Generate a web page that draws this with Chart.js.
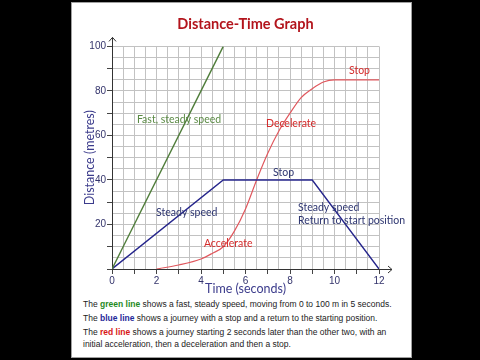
<!DOCTYPE html>
<html>
<head>
<meta charset="utf-8">
<script src="https://cdn.jsdelivr.net/npm/chart.js@4.4.1/dist/chart.umd.min.js"></script>
<style>
  html, body { margin: 0; padding: 0; background: #000; width: 480px; height: 360px; overflow: hidden; }
  #panel { position: absolute; left: 71px; top: 2px; width: 339px; height: 354px; background: #fff; border: 1px solid #a0a0a0; }
  #wrap { position: absolute; left: 0; top: 0; width: 338px; height: 294px; }
  #notes { position: absolute; left: 11px; top: 296px; width: 326px; white-space: nowrap; font-family: 'Liberation Sans', Arial, sans-serif; font-size: 8.5px; color: #222; }
  #notes p { margin: 0 0 2.5px 0; line-height: 11.5px; }
  .g { color: #1f8a1f; font-weight: bold; }
  .b { color: #1f2a9a; font-weight: bold; }
  .r { color: #d81818; font-weight: bold; }
</style>
</head>
<body>
<div id="panel">
  <div id="wrap"><canvas id="graph"></canvas></div>
  <div id="notes">
    <p>The <span class="g">green line</span> shows a fast, steady speed, moving from 0 to 100 m in 5 seconds.</p>
    <p>The <span class="b">blue line</span> shows a journey with a stop and a return to the starting position.</p>
    <p>The <span class="r">red line</span> shows a journey starting 2 seconds later than the other two, with an<br>initial acceleration, then a deceleration and then a stop.</p>
  </div>
</div>
<script>
// time (s) and distance (m) for each journey
const greenTime = [0, 5];
const greenDist = [0, 100];
const blueTime = [0, 5, 9, 12];
const blueDist = [0, 40, 40, 0];
const redTime = [2, 3, 4, 4.5, 5, 5.5, 6, 6.5, 7, 7.5, 8, 8.5, 9, 9.5, 10, 11, 12];
const redDist = [0, 1.8, 4.5, 7, 10, 17, 27, 40, 52, 62, 70, 77, 81, 84, 85, 85, 85];

// labelled ticks
const timeLabels = [0, 2, 4, 6, 8, 10, 12];
const distLabels = [20, 40, 60, 80, 100];

const toPoints = (xs, ys) => xs.map((x, i) => ({ x: x, y: ys[i] }));

const annoFont = "10.5px Lato, sans-serif";
const notes = [
  { text: 'Fast, steady speed', t: 1.12, d: 67, color: '#5b8a45' },
  { text: 'Decelerate', t: 6.92, d: 65.3, color: '#d42a2a' },
  { text: 'Stop', t: 10.65, d: 89.3, color: '#d42a2a' },
  { text: 'Stop', t: 7.24, d: 43.4, color: '#2d3570' },
  { text: 'Steady speed', t: 1.98, d: 25.4, color: '#2d3570' },
  { text: 'Steady speed', t: 8.36, d: 27.8, color: '#2d3570' },
  { text: 'Return to start position', t: 8.36, d: 21.8, color: '#2d3570' },
  { text: 'Accelerate', t: 4.13, d: 11.3, color: '#d42a2a' }
];

// arrows on the axes + text labels inside the plot
const extras = {
  id: 'extras',
  afterDraw(chart) {
    const { ctx, chartArea: a, scales } = chart;
    ctx.save();
    ctx.strokeStyle = '#333';
    ctx.lineWidth = 1;
    ctx.beginPath();
    ctx.moveTo(a.left + 0.5, a.top);
    ctx.lineTo(a.left + 0.5, a.top - 9);
    ctx.moveTo(a.left - 3, a.top - 5);
    ctx.lineTo(a.left + 0.5, a.top - 9);
    ctx.lineTo(a.left + 4, a.top - 5);
    ctx.moveTo(a.right, a.bottom + 0.5);
    ctx.lineTo(a.right + 13, a.bottom + 0.5);
    ctx.moveTo(a.right + 9, a.bottom - 3);
    ctx.lineTo(a.right + 13, a.bottom + 0.5);
    ctx.lineTo(a.right + 9, a.bottom + 4);
    ctx.stroke();

    ctx.font = annoFont;
    ctx.textAlign = 'left';
    ctx.textBaseline = 'middle';
    notes.forEach(n => {
      ctx.fillStyle = n.color;
      ctx.fillText(n.text, scales.x.getPixelForValue(n.t), scales.y.getPixelForValue(n.d));
    });
    ctx.restore();
  }
};

const tickFont = { family: "'Liberation Sans', Arial, sans-serif", size: 10 };
const titleFont = { family: "Lato, 'Open Sans', sans-serif", size: 12.5 };

new Chart(document.getElementById('graph'), {
  type: 'line',
  data: {
    datasets: [
      { data: toPoints(greenTime, greenDist), borderColor: '#4f7d3a', borderWidth: 1.4, pointRadius: 0 },
      { data: toPoints(blueTime, blueDist), borderColor: '#26268c', borderWidth: 1.4, pointRadius: 0 },
      { data: toPoints(redTime, redDist), borderColor: '#e0585e', borderWidth: 1.2, pointRadius: 0, cubicInterpolationMode: 'monotone' }
    ]
  },
  options: {
    animation: false,
    responsive: true,
    maintainAspectRatio: false,
    layout: { padding: { left: 0, right: 31, top: 0, bottom: 0 } },
    plugins: {
      legend: { display: false },
      tooltip: { enabled: false },
      title: {
        display: true,
        fullSize: false,
        text: 'Distance-Time Graph',
        color: '#b3141c',
        font: { family: "Lato, sans-serif", size: 14.5, weight: 'bold' },
        padding: { top: 13, bottom: 13 }
      }
    },
    scales: {
      x: {
        type: 'linear',
        min: 0,
        max: 12,
        afterFit(s) { s.height = 28; },
        ticks: {
          stepSize: 0.5,
          autoSkip: false,
          maxRotation: 0,
          padding: 1,
          color: '#33336b',
          font: tickFont,
          callback: v => timeLabels.includes(v) ? String(v) : ''
        },
        grid: {
          color: '#c2c2c2',
          tickLength: 5,
          tickColor: c => Number.isInteger(c.tick.value) ? '#444' : 'rgba(0,0,0,0)'
        },
        border: { display: true, color: '#333' },
        title: { display: true, text: 'Time (seconds)', color: '#3c3c8c', font: titleFont, padding: { top: 0, bottom: 1 } }
      },
      y: {
        type: 'linear',
        min: 0,
        max: 100,
        afterFit(s) { s.width = 40; },
        ticks: {
          stepSize: 5,
          autoSkip: false,
          padding: 1,
          color: '#33336b',
          font: tickFont,
          callback: v => distLabels.includes(v) ? String(v) : ''
        },
        grid: {
          color: '#c2c2c2',
          tickLength: 5,
          tickColor: c => c.tick.value % 10 === 0 ? '#444' : 'rgba(0,0,0,0)'
        },
        border: { display: true, color: '#333' },
        title: { display: true, text: 'Distance (metres)', color: '#3c3c8c', font: titleFont, padding: { top: 10, bottom: 0 } }
      }
    }
  },
  plugins: [extras]
});
</script>
</body>
</html>
